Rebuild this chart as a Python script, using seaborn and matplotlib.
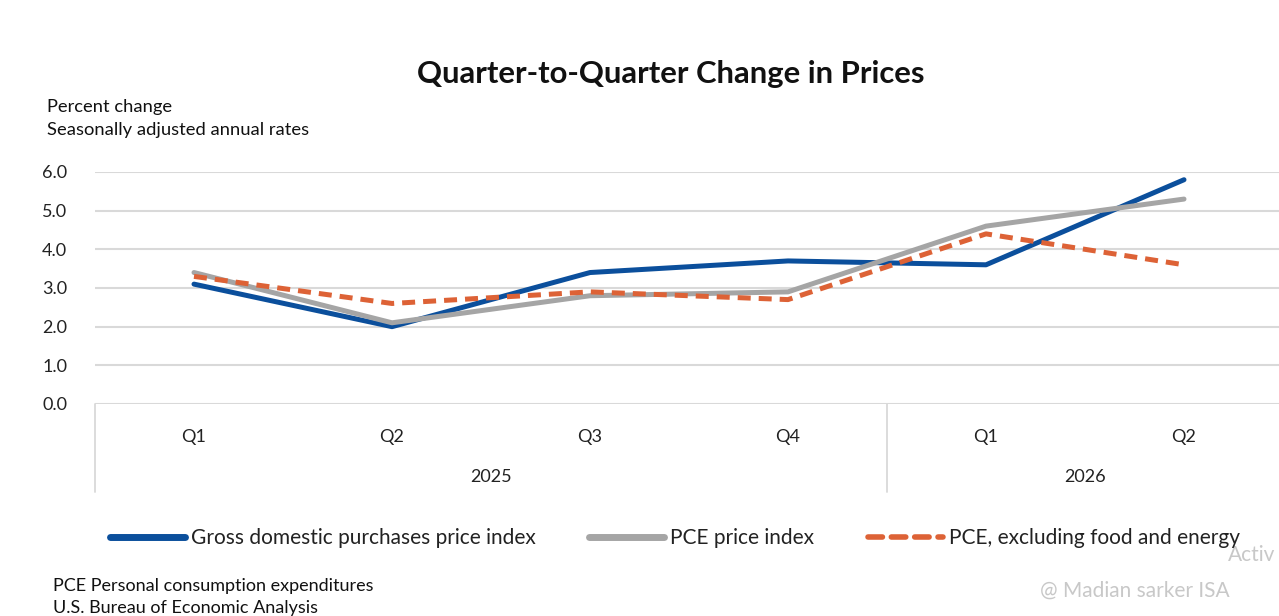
import numpy as np
import pandas as pd
import matplotlib
matplotlib.use("Agg")
import matplotlib.pyplot as plt
import seaborn as sns

quarters = ["Q1", "Q2", "Q3", "Q4", "Q1", "Q2"]
years = ["2025", "2025", "2025", "2025", "2026", "2026"]
gdp_purchases = [3.1, 2.0, 3.4, 3.7, 3.6, 5.8]
pce = [3.4, 2.1, 2.8, 2.9, 4.6, 5.3]
pce_core = [3.3, 2.6, 2.9, 2.7, 4.4, 3.6]
series_names = ["Gross domestic purchases price index", "PCE price index",
                "PCE, excluding food and energy"]
yticks = [0.0, 1.0, 2.0, 3.0, 4.0, 5.0, 6.0]

colors = {series_names[0]: "#0B4F9C", series_names[1]: "#A5A5A5", series_names[2]: "#DD6236"}
dashes = {series_names[0]: "", series_names[1]: "", series_names[2]: (2.6, 1.6)}

pos = np.arange(len(quarters))
df = pd.concat([
    pd.DataFrame({"pos": pos, "value": vals, "series": name})
    for name, vals in zip(series_names, [gdp_purchases, pce, pce_core])
])

sns.set_style("white")
plt.rcParams["font.family"] = ["Lato", "DejaVu Sans"]

fig = plt.figure(figsize=(12.79, 6.16), dpi=100)
ax = fig.add_axes([95 / 1279, 1 - 404 / 616, 1188 / 1279, 232 / 616])

sns.lineplot(data=df, x="pos", y="value", hue="series", style="series",
             palette=colors, dashes=dashes, linewidth=3.6, legend=False, ax=ax)

ax.set_xlim(-0.5, len(quarters) - 0.5)
ax.set_ylim(0, 6.0)
ax.set_yticks(yticks)
ax.set_yticklabels([f"{v:.1f}" for v in yticks], fontsize=13, color="#222222")
ax.tick_params(axis="y", length=0, pad=20)
ax.tick_params(axis="x", length=0, pad=18)
ax.set_xticks(pos)
ax.set_xticklabels(quarters, fontsize=13, color="#222222")
ax.set_xlabel("")
ax.set_ylabel("")
for v in yticks:
    ax.axhline(v, color="#D9D9D9", linewidth=1.5, zorder=0)
for s in ax.spines.values():
    s.set_visible(False)

# year groups below the quarter labels
trans = ax.get_xaxis_transform()
bounds = [-0.5]
for i in range(1, len(years)):
    if years[i] != years[i - 1]:
        bounds.append(i - 0.5)
bounds.append(len(years) - 0.5)
for b in bounds:
    ax.plot([b, b], [0, -88 / 232], transform=trans, color="#D9D9D9",
            linewidth=1.3, clip_on=False)
for a, b in zip(bounds[:-1], bounds[1:]):
    ax.text((a + b) / 2, -73 / 232, years[int(a + 0.5)], transform=trans,
            ha="center", va="center", fontsize=13, color="#222222")

fig.text(671 / 1279, 1 - 74 / 616, "Quarter-to-Quarter Change in Prices",
         ha="center", va="center", fontsize=22.3, fontweight="bold", color="#111111")
fig.text(47 / 1279, 1 - 107 / 616, "Percent change", ha="left", va="center",
         fontsize=13.2, color="#111111")
fig.text(47 / 1279, 1 - 130 / 616, "Seasonally adjusted annual rates", ha="left",
         va="center", fontsize=13.2, color="#111111")

handles = [plt.Line2D([], [], color=colors[n], linewidth=5 if n != series_names[2] else 4,
                      linestyle=(0, dashes[n]) if dashes[n] else "-", solid_capstyle="round",
                      dash_capstyle="round")
           for n in series_names]
fig.legend(handles, series_names, loc="center left", bbox_to_anchor=(110 / 1279, 1 - 538 / 616),
           ncol=3, frameon=False, fontsize=15, handlelength=3.6, handletextpad=0.3,
           columnspacing=2.55, borderpad=0, borderaxespad=0, labelcolor="#222222")

fig.text(53 / 1279, 1 - 586 / 616, "PCE Personal consumption expenditures",
         ha="left", va="center", fontsize=13, color="#111111")
fig.text(53 / 1279, 1 - 608 / 616, "U.S. Bureau of Economic Analysis",
         ha="left", va="center", fontsize=13, color="#111111")
fig.text(1040 / 1279, 1 - 591 / 616, "@ Madian sarker ISA", ha="left", va="center",
         fontsize=15, color="#C8C8C8")
fig.text(1228 / 1279, 1 - 555 / 616, "Activ", ha="left", va="center",
         fontsize=15, color="#C8C8C8")

fig.savefig("out.png", dpi=100)
